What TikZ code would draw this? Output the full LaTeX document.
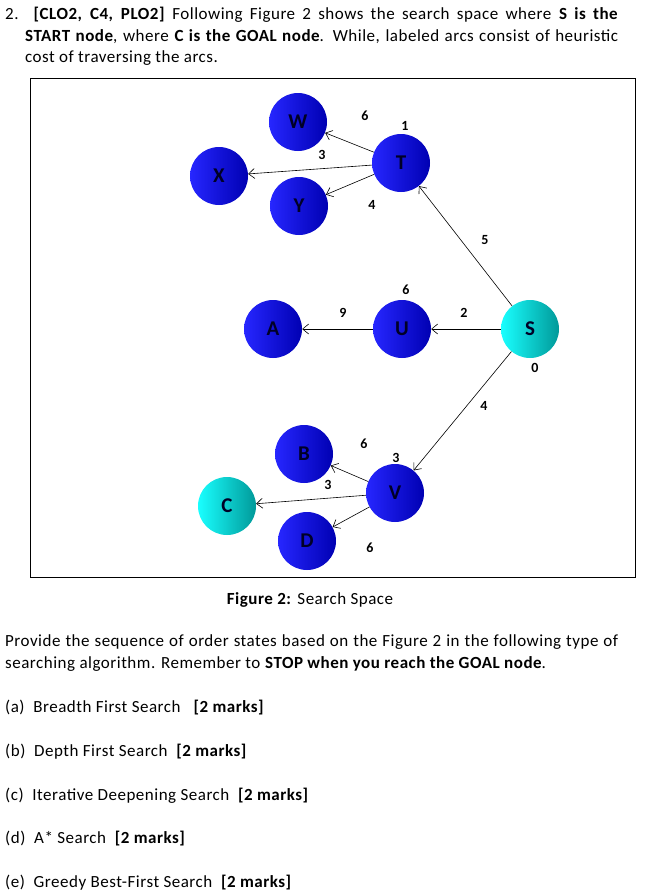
\documentclass[tikz,border=0pt]{standalone}
\usepackage{fontspec}
\setmainfont{Carlito}[LetterSpace=3]
\usetikzlibrary{arrows.meta}
\begin{document}
\begin{tikzpicture}[x=1pt,y=-1pt,
  bn/.style={circle,minimum size=58pt,inner sep=0pt,font=\fontsize{21}{21}\selectfont\bfseries,text=black!85!blue,left color=blue!85!white,right color=blue!70!black,draw=none},
  cn/.style={bn,left color=cyan!90!white,right color=cyan!60!black},
  ar/.style={-{Straight Barb[length=6pt,width=10pt]},black,line width=0.6pt},
  lb/.style={font=\fontsize{14}{14}\selectfont\bfseries},
  tx/.style={anchor=base west,inner sep=0pt,font=\fontsize{17}{21.5}\selectfont}]
\useasboundingbox (0,0) rectangle (655,895);
\node[tx] (h1) at (5,19) {\makebox[613pt][s]{2. \textbf{[CLO2, C4, PLO2]} Following Figure 2 shows the search space where \textbf{S is the}}};
\node[tx] (h2) at (25,41) {\makebox[593pt][s]{\textbf{START node}, where \textbf{C is the GOAL node}. While, labeled arcs consist of heuristic}};
\node[tx] (h3) at (25,62) {cost of traversing the arcs.};
\draw[line width=1pt] (30,78) rectangle (635,577);
\node[bn] (W) at (298,122) {W};
\node[bn] (T) at (401,163) {T};
\node[bn] (X) at (219,176) {X};
\node[bn] (Y) at (299,206) {Y};
\node[bn] (A) at (273,329) {A};
\node[bn] (U) at (402,329) {U};
\node[cn] (S) at (530,329) {S};
\node[bn] (B) at (304,454) {B};
\node[bn] (V) at (395,493) {V};
\node[cn] (C) at (227,506) {C};
\node[bn] (D) at (307,541) {D};
\draw[ar] (T) -- (W); \draw[ar] (T) -- (X); \draw[ar] (T) -- (Y);
\draw[ar] (S) -- (T); \draw[ar] (S) -- (U); \draw[ar] (U) -- (A);
\draw[ar] (S) -- (V); \draw[ar] (V) -- (B); \draw[ar] (V) -- (C); \draw[ar] (V) -- (D);
\node[lb] (l1) at (365,116) {6}; \node[lb] (l2) at (405,126) {1};
\node[lb] (l3) at (322,155) {3}; \node[lb] (l4) at (372,205) {4};
\node[lb] (l5) at (485,240) {5}; \node[lb] (l6) at (406,290) {6};
\node[lb] (l7) at (343,313) {9}; \node[lb] (l8) at (464,313) {2};
\node[lb] (l9) at (535,368) {0}; \node[lb] (l10) at (484,406) {4};
\node[lb] (l11) at (364,444) {6}; \node[lb] (l12) at (396,458) {3};
\node[lb] (l13) at (328,485) {3}; \node[lb] (l14) at (370,548) {6};
\node[font=\fontsize{17}{17}\selectfont] (cap) at (310,600) {\textbf{Figure 2:} Search Space};
\node[tx] (p1) at (5,646) {\makebox[613pt][s]{Provide the sequence of order states based on the Figure 2 in the following type of}};
\node[tx] (p2) at (5,668) {searching algorithm. Remember to \textbf{STOP when you reach the GOAL node}.};
\node[tx] (a) at (5,712) {(a)\ \ Breadth First Search\ \ \ \textbf{[2 marks]}};
\node[tx] (b) at (5,756) {(b)\ \ Depth First Search\ \ \textbf{[2 marks]}};
\node[tx] (c) at (5,800) {(c)\ \ Iterative Deepening Search\ \ \textbf{[2 marks]}};
\node[tx] (d) at (5,843) {(d)\ \ A* Search\ \ \textbf{[2 marks]}};
\node[tx] (e) at (5,887) {(e)\ \ Greedy Best-First Search\ \ \textbf{[2 marks]}};
\end{tikzpicture}
\end{document}
